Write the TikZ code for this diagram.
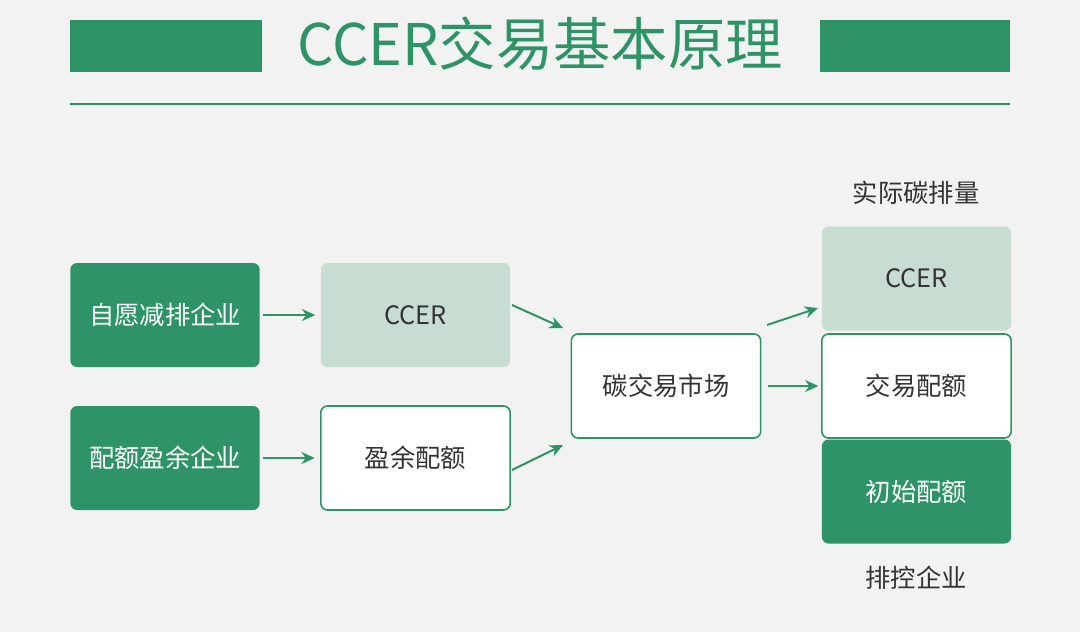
\documentclass[tikz,border=0pt]{standalone}
\usepackage{fontspec}
\setmainfont{Noto Sans CJK SC}
\usetikzlibrary{arrows.meta}
\definecolor{gr}{HTML}{2E9467}
\definecolor{lg}{HTML}{C8DDD2}
\definecolor{bg}{HTML}{F2F2F2}
\definecolor{tx}{HTML}{333333}
\begin{document}
\begin{tikzpicture}[x=0.75pt,y=-0.75pt,
 box/.style={rounded corners=5pt,minimum width=142pt,minimum height=78pt,font=\fontsize{19}{21}\selectfont},
 gbox/.style={box,fill=gr,text=white},
 lbox/.style={box,fill=lg,text=tx},
 wbox/.style={box,fill=white,draw=gr,line width=1.2pt,text=tx},
 arr/.style={-{Stealth[length=10pt,width=9pt]},gr,line width=1.5pt},
 lab/.style={text=tx,font=\fontsize{19}{21}\selectfont}]
\fill[bg] (0,0) rectangle (1080,632);
\useasboundingbox (0,0) rectangle (1080,632);
\fill[gr] (70,20) rectangle (262,72);
\fill[gr] (820,20) rectangle (1010,72);
\node[text=gr,font=\fontsize{43}{46}\selectfont] (title) at (540,44) {CCER交易基本原理};
\draw[gr,line width=1.2pt] (70,104) -- (1010,104);
\node[gbox] (a) at (165,315) {自愿减排企业};
\node[lbox] (b) at (415.5,315) {CCER};
\node[gbox] (c) at (165,458) {配额盈余企业};
\node[wbox] (d) at (415.5,458) {盈余配额};
\node[wbox] (m) at (666,386) {碳交易市场};
\node[lbox] (r1) at (916.5,278.5) {CCER};
\node[wbox] (r2) at (916.5,386) {交易配额};
\node[gbox] (r3) at (916.5,491.5) {初始配额};
\node[lab] (t1) at (916,193) {实际碳排量};
\node[lab] (t2) at (916,578) {排控企业};
\coordinate (p1) at (512,305); \coordinate (p2) at (563,328);
\coordinate (p3) at (512,470); \coordinate (p4) at (563,445);
\coordinate (p5) at (767,325); \coordinate (p6) at (818,308);
\draw[arr] (a.east) ++(3,0) -- ([xshift=-4pt]b.west);
\draw[arr] (c.east) ++(3,0) -- ([xshift=-4pt]d.west);
\draw[arr] (p1) -- (p2);
\draw[arr] (p3) -- (p4);
\draw[arr] (p5) -- (p6);
\draw[arr] ([xshift=5pt]m.east) -- ([xshift=-2pt]r2.west);
\end{tikzpicture}
\end{document}
